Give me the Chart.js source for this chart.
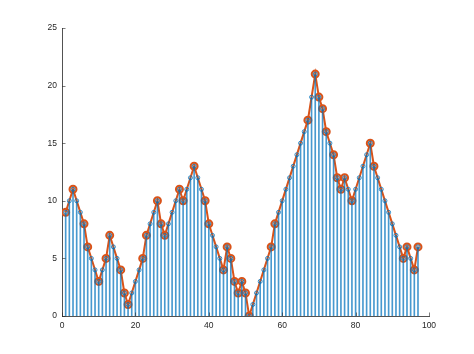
<!DOCTYPE html>
<html>
<head>
<meta charset="utf-8">
<script src="https://cdn.jsdelivr.net/npm/chart.js@4"></script>
<style>
  html, body { margin: 0; padding: 0; background: #fff; }
  #wrap { width: 474px; height: 354px; }
</style>
</head>
<body>
<div id="wrap"><canvas id="chart" width="474" height="354"></canvas></div>
<script>
// stem values for x = 1..97
const stemValues = [
  9,10,11,10,9,8,6,5,4,3,
  4,5,7,6,5,4,2,1,2,3,
  4,5,7,8,9,10,8,7,8,9,
  10,11,10,11,12,13,12,11,10,8,
  7,6,5,4,6,5,3,2,3,2,
  0,1,2,3,4,5,6,8,9,10,
  11,12,13,14,15,16,17,19,21,19,
  18,16,15,14,12,11,12,11,10,11,
  12,13,14,15,13,12,11,10,9,8,
  7,6,5,6,5,4,6
];

// orange line: selected points
const lineX = [1,3,6,7,10,12,13,16,17,18,22,23,26,27,28,32,33,36,39,40,44,45,46,47,48,49,50,51,57,58,67,69,70,71,72,74,75,76,77,79,84,85,93,94,96,97];
const lineY = [9,11,8,6,3,5,7,4,2,1,5,7,10,8,7,11,10,13,10,8,4,6,5,3,2,3,2,0,6,8,17,21,19,18,16,14,12,11,12,10,15,13,5,6,4,6];

const xTicks = [0,20,40,60,80,100];
const yTicks = [0,5,10,15,20,25];

const blue = '#0072BD';
const orange = '#D95319';
const axisColor = '#262626';

const stemPoints = stemValues.map((v, i) => ({x: i + 1, y: v}));
const linePoints = lineX.map((x, i) => ({x: x, y: lineY[i]}));

// inward tick marks like the original
const innerTicks = {
  id: 'innerTicks',
  afterDraw(chart){
    const ctx = chart.ctx;
    const xs = chart.scales.x, ys = chart.scales.y;
    const a = chart.chartArea;
    ctx.save();
    ctx.strokeStyle = axisColor;
    ctx.lineWidth = 0.6;
    ctx.beginPath();
    xTicks.forEach(t => {
      const px = Math.round(xs.getPixelForValue(t)) + 0.5;
      ctx.moveTo(px, a.bottom);
      ctx.lineTo(px, a.bottom - 3.5);
    });
    yTicks.forEach(t => {
      const py = Math.round(ys.getPixelForValue(t)) + 0.5;
      ctx.moveTo(a.left, py);
      ctx.lineTo(a.left + 3.5, py);
    });
    ctx.stroke();
    ctx.restore();
  }
};

const font = {family: '"Liberation Sans", Arial, Helvetica, sans-serif', size: 8.5};

new Chart(document.getElementById('chart').getContext('2d'), {
  data: {
    datasets: [
      {
        type: 'line',
        data: stemPoints,
        showLine: false,
        pointRadius: 2,
        pointBorderWidth: 0.8,
        pointBorderColor: blue,
        pointBackgroundColor: 'rgba(0,0,0,0)',
        order: 1
      },
      {
        type: 'bar',
        data: stemPoints,
        backgroundColor: 'rgba(0,114,189,0.72)',
        barThickness: 1,
        grouped: false,
        order: 2
      },
      {
        type: 'line',
        data: linePoints,
        borderColor: orange,
        borderWidth: 2,
        pointRadius: 3.5,
        pointBorderWidth: 2,
        pointBorderColor: orange,
        pointBackgroundColor: 'rgba(217,83,25,0.35)',
        tension: 0,
        order: 3
      }
    ]
  },
  options: {
    responsive: false,
    animation: false,
    layout: {padding: {left: 0, top: 28, right: 45, bottom: 0}},
    plugins: {legend: {display: false}, tooltip: {enabled: false}},
    scales: {
      x: {
        type: 'linear',
        min: 0, max: 100,
        offset: false,
        grid: {display: false, drawTicks: false},
        border: {display: true, color: axisColor, width: 0.8},
        ticks: {stepSize: 20, color: axisColor, font: font, padding: 5, maxRotation: 0},
        afterFit(s){ s.height = 38; }
      },
      y: {
        min: 0, max: 25,
        grid: {display: false, drawTicks: false},
        border: {display: true, color: axisColor, width: 0.8},
        ticks: {stepSize: 5, color: axisColor, font: font, padding: 5},
        afterFit(s){ s.width = 62; }
      }
    }
  },
  plugins: [innerTicks]
});
</script>
</body>
</html>
